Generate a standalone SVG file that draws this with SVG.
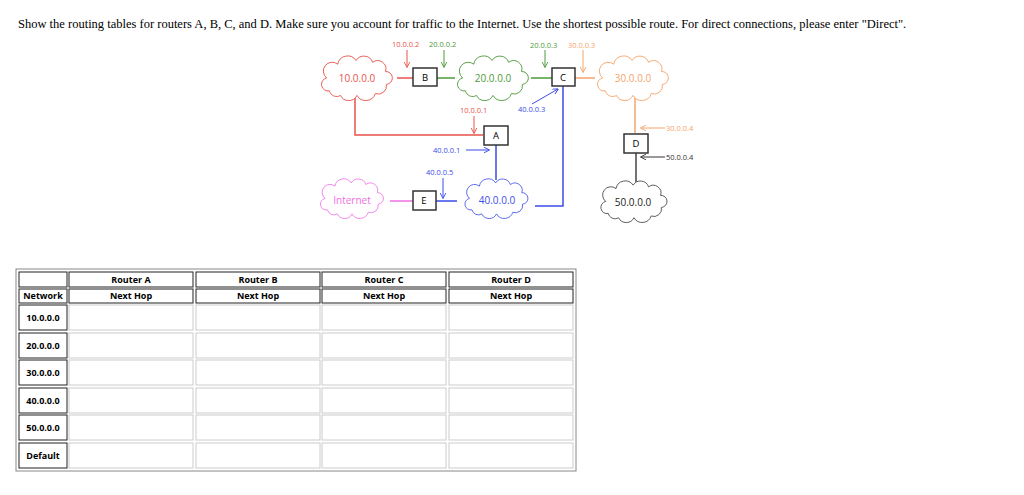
<svg xmlns="http://www.w3.org/2000/svg" width="1024" height="495" viewBox="0 0 1024 495">
<style>
.t{font-family:"Liberation Serif",serif;font-size:12.5px}
.l{font-family:"Open Sans","DejaVu Sans",sans-serif;font-size:7.5px}
.n{font-family:"Open Sans","DejaVu Sans",sans-serif;font-size:10px;text-anchor:middle}
.bl{font-family:"Open Sans","DejaVu Sans",sans-serif;font-size:9.5px;text-anchor:middle}
.box{fill:#fff;stroke:#333;stroke-width:1.5}
.h{font-family:"Open Sans","DejaVu Sans",sans-serif;font-size:9px;font-weight:bold;text-anchor:middle}
.lc{fill:#fff;stroke:#222;stroke-width:1}
.dc{fill:#fff;stroke:#ccc;stroke-width:1}
</style>
<defs>
<symbol id="cloud" viewBox="-2 -2 84 49" overflow="visible">
<path d="M10,37 a7,7 0 0 1 -3,-14 a9,9 0 0 1 12,-15 a11,11 0 0 1 20,-4 a10,10 0 0 1 18,2 a9,9 0 0 1 14,10 a7,7 0 0 1 1,14 a9,9 0 0 1 -12,10 a11,11 0 0 1 -20,2 a10,10 0 0 1 -18,0 a8,8 0 0 1 -12,-5 z" fill="#fff" stroke="currentColor" stroke-width="1"/>
</symbol>
<marker id="ar" viewBox="0 0 10 10" refX="9" refY="5" markerWidth="6" markerHeight="6" orient="auto"><path d="M0,0 L10,5 L0,10" fill="none" stroke="context-stroke" stroke-width="1.5"/></marker>
</defs>
<rect width="1024" height="495" fill="#fff"/>
<text class="t" x="18" y="28">Show the routing tables for routers A, B, C, and D. Make sure you account for traffic to the Internet. Use the shortest possible route. For direct connections, please enter "Direct".</text>
<g id="connectors" fill="none" stroke-width="1.5">
<path d="M397,78H413" stroke="#e8534a"/>
<path d="M437,78H455M531,78H552" stroke="#4c9a3a"/>
<path d="M575,78H595" stroke="#f5a46b"/>
<path d="M355,98V135H483" stroke="#e8534a"/>
<path d="M496,145V180" stroke="#3b4de8"/>
<path d="M563,85V206H535" stroke="#3b4de8"/>
<path d="M390,201H413" stroke="#ee6fe6"/>
<path d="M436,201H457" stroke="#3b4de8"/>
<path d="M635,98V133" stroke="#f5a46b"/>
<path d="M636,153V182" stroke="#444"/>
<g stroke-width="1" marker-end="url(#ar)">
<path d="M407,50V67" stroke="#e8534a"/>
<path d="M444,50V67" stroke="#4c9a3a"/>
<path d="M545,50V67" stroke="#4c9a3a"/>
<path d="M583,50V72" stroke="#f5a46b"/>
<path d="M474,116V133" stroke="#e8534a"/>
<path d="M532,104L558,89" stroke="#3b4de8"/>
<path d="M466,150H489" stroke="#3b4de8"/>
<path d="M443,178V198" stroke="#3b4de8"/>
<path d="M665,128H641" stroke="#f5a46b"/>
<path d="M665,157H641" stroke="#333"/>
</g>
</g>
<g class="l">
<text x="392" y="47" fill="#e8534a">10.0.0.2</text>
<text x="429" y="47" fill="#4c9a3a">20.0.0.2</text>
<text x="530" y="48" fill="#4c9a3a">20.0.0.3</text>
<text x="568" y="48" fill="#f5a46b">30.0.0.3</text>
<text x="460" y="113" fill="#e8534a">10.0.0.1</text>
<text x="518" y="112" fill="#3b4de8">40.0.0.3</text>
<text x="433" y="153" fill="#3b4de8">40.0.0.1</text>
<text x="426" y="175" fill="#3b4de8">40.0.0.5</text>
<text x="666" y="131" fill="#f5a46b">30.0.0.4</text>
<text x="666" y="160" fill="#333">50.0.0.4</text>
</g>
<g id="net10"><use href="#cloud" x="317" y="55" width="80" height="45" color="#e8534a"/><text class="n" x="357" y="82" fill="#e8534a">10.0.0.0</text></g>
<g id="net20"><use href="#cloud" x="453" y="55" width="80" height="45" color="#4c9a3a"/><text class="n" x="493" y="82" fill="#4c9a3a">20.0.0.0</text></g>
<g id="net30"><use href="#cloud" x="593" y="55" width="80" height="45" color="#f5a46b"/><text class="n" x="633" y="82" fill="#f5a46b">30.0.0.0</text></g>
<g id="internet"><use href="#cloud" x="312" y="178" width="80" height="40" color="#ee6fe6"/><text class="n" x="352" y="204" fill="#ee6fe6">Internet</text></g>
<g id="net40"><use href="#cloud" x="456" y="178" width="81" height="40" color="#3b4de8"/><text class="n" x="497" y="204" fill="#3b4de8">40.0.0.0</text></g>
<g id="net50"><use href="#cloud" x="594" y="180" width="80" height="42" color="#444"/><text class="n" x="633" y="206" fill="#222">50.0.0.0</text></g>
<g id="B"><rect class="box" x="413" y="68" width="24" height="18"/><text class="bl" x="425" y="81">B</text></g>
<g id="C"><rect class="box" x="552" y="68" width="23" height="18"/><text class="bl" x="563" y="81">C</text></g>
<g id="A"><rect class="box" x="484" y="126" width="24" height="19"/><text class="bl" x="496" y="139">A</text></g>
<g id="D"><rect class="box" x="624" y="134" width="24" height="19"/><text class="bl" x="636" y="147">D</text></g>
<g id="E"><rect class="box" x="413" y="191" width="23" height="19"/><text class="bl" x="424" y="204">E</text></g>
<g id="table">
<rect x="16" y="269" width="560" height="202" fill="#fff" stroke="#888" stroke-width="1"/>
<g>
<rect class="lc" x="19" y="272" width="48" height="15"/>
<rect class="lc" x="69" y="272" width="124" height="15"/><rect class="lc" x="196" y="272" width="124" height="15"/><rect class="lc" x="322" y="272" width="124" height="15"/><rect class="lc" x="449" y="272" width="124" height="15"/>
<rect class="lc" x="19" y="289" width="48" height="14"/>
<rect class="lc" x="69" y="289" width="124" height="14"/><rect class="lc" x="196" y="289" width="124" height="14"/><rect class="lc" x="322" y="289" width="124" height="14"/><rect class="lc" x="449" y="289" width="124" height="14"/>
</g>
<text class="h" x="131" y="283">Router A</text><text class="h" x="258" y="283">Router B</text><text class="h" x="384" y="283">Router C</text><text class="h" x="511" y="283">Router D</text>
<text class="h" x="43" y="299">Network</text>
<text class="h" x="131" y="299">Next Hop</text><text class="h" x="258" y="299">Next Hop</text><text class="h" x="384" y="299">Next Hop</text><text class="h" x="511" y="299">Next Hop</text>
<g>
<rect class="lc" x="19" y="305" width="48" height="25"/><rect class="lc" x="19" y="333" width="48" height="25"/><rect class="lc" x="19" y="360" width="48" height="25"/><rect class="lc" x="19" y="388" width="48" height="25"/><rect class="lc" x="19" y="415" width="48" height="25"/><rect class="lc" x="19" y="443" width="48" height="25"/>
</g>
<g>
<rect class="dc" x="69" y="305" width="124" height="25"/><rect class="dc" x="196" y="305" width="124" height="25"/><rect class="dc" x="322" y="305" width="124" height="25"/><rect class="dc" x="449" y="305" width="124" height="25"/>
<rect class="dc" x="69" y="333" width="124" height="25"/><rect class="dc" x="196" y="333" width="124" height="25"/><rect class="dc" x="322" y="333" width="124" height="25"/><rect class="dc" x="449" y="333" width="124" height="25"/>
<rect class="dc" x="69" y="360" width="124" height="25"/><rect class="dc" x="196" y="360" width="124" height="25"/><rect class="dc" x="322" y="360" width="124" height="25"/><rect class="dc" x="449" y="360" width="124" height="25"/>
<rect class="dc" x="69" y="388" width="124" height="25"/><rect class="dc" x="196" y="388" width="124" height="25"/><rect class="dc" x="322" y="388" width="124" height="25"/><rect class="dc" x="449" y="388" width="124" height="25"/>
<rect class="dc" x="69" y="415" width="124" height="25"/><rect class="dc" x="196" y="415" width="124" height="25"/><rect class="dc" x="322" y="415" width="124" height="25"/><rect class="dc" x="449" y="415" width="124" height="25"/>
<rect class="dc" x="69" y="443" width="124" height="25"/><rect class="dc" x="196" y="443" width="124" height="25"/><rect class="dc" x="322" y="443" width="124" height="25"/><rect class="dc" x="449" y="443" width="124" height="25"/>
</g>
<g class="h">
<text x="43" y="321">10.0.0.0</text><text x="43" y="349">20.0.0.0</text><text x="43" y="376">30.0.0.0</text><text x="43" y="404">40.0.0.0</text><text x="43" y="431">50.0.0.0</text><text x="43" y="459">Default</text>
</g>
</g>
</svg>
